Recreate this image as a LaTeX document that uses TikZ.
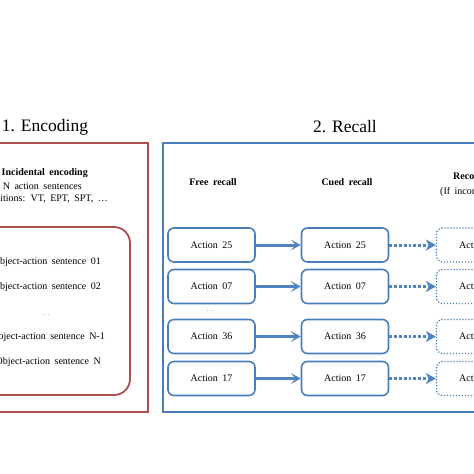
\documentclass[tikz,border=0pt]{standalone}
\usepackage{fontspec}
\setmainfont[WordSpace=1.8]{Liberation Serif}
\newfontfamily\ttlfont{Liberation Serif}
\usetikzlibrary{arrows.meta}
\definecolor{rblue}{HTML}{4A7EBB}
\definecolor{ablue}{HTML}{4F84C0}
\definecolor{rred}{RGB}{172,78,80}
\tikzset{
  act/.style={draw=rblue, line width=1.6pt, rounded corners=6pt, minimum width=87pt, minimum height=34pt, fill=white, inner sep=0pt, font=\fontsize{10}{12}\selectfont},
  dact/.style={act, dash pattern=on 1.2pt off 1.8pt, line width=1.3pt},
  arr/.style={draw=ablue, line width=3pt, -{Stealth[length=10pt,width=11pt,inset=5pt]}},
  darr/.style={arr, dash pattern=on 2.8pt off 2pt, -{Stealth[length=10pt,width=11pt,inset=3pt]}},
  txt/.style={inner sep=0pt, font=\fontsize{10}{12}\selectfont},
  btxt/.style={txt, font=\fontsize{10}{12}\selectfont\bfseries},
  ttl/.style={inner sep=0pt, font=\ttlfont\fontsize{17.5}{20}\selectfont},
  dots/.style={inner sep=0pt, text=gray, font=\fontsize{7}{8}\selectfont}
}
\begin{document}
\begin{tikzpicture}[x=1pt,y=-1pt]
\useasboundingbox (0,0) rectangle (474,474);
\clip (0,0) rectangle (474,474);
\fill[white] (0,0) rectangle (474,474);
% Encoding panel
\node[ttl] (encttl) at (45,127) {1. Encoding};
\draw[rred, line width=2.2pt] (-10,143) rectangle (148,412);
\node[btxt, anchor=east] (incid) at (88,173) {Incidental encoding};
\node[txt, anchor=east] (nact) at (82,186) {N action sentences};
\node[txt, anchor=east] (cond) at (108,199) {Conditions: VT, EPT, SPT, \ldots};
\draw[rred, line width=1.8pt, rounded corners=16pt] (-20,227) rectangle (130,395);
\node[txt, anchor=east] (s1) at (101,262) {Object-action sentence 01};
\node[txt, anchor=east] (s2) at (101,287) {Object-action sentence 02};
\node[dots] (sd) at (46,315) {\ldots};
\node[txt, anchor=east] (s3) at (105,337) {Object-action sentence N-1};
\node[txt, anchor=east] (s4) at (101,362) {Object-action sentence N};
% Recall panel
\node[ttl] (recttl) at (345,127) {2. Recall};
\draw[rblue, line width=1.8pt] (163,143) rectangle (495,412);
\node[btxt] (free) at (213,182) {Free recall};
\node[btxt] (cued) at (347,182) {Cued recall};
\node[btxt, anchor=west] (recog) at (453,177) {Recognition};
\node[txt, anchor=west] (ifinc) at (440,192) {(If incorrect in cued recall)};
% rows
\node[act] (a1) at (211.5,245) {Action 25};
\node[act] (b1) at (345,245) {Action 25};
\node[dact] (c1) at (480,245) {Action 25};
\node[act] (a2) at (211.5,286.5) {Action 07};
\node[act] (b2) at (345,286.5) {Action 07};
\node[dact] (c2) at (480,286.5) {Action 07};
\node[dots] (ad) at (210,311) {\ldots};
\node[act] (a3) at (211.5,336.5) {Action 36};
\node[act] (b3) at (345,336.5) {Action 36};
\node[dact] (c3) at (480,336.5) {Action 36};
\node[act] (a4) at (211.5,378.5) {Action 17};
\node[act] (b4) at (345,378.5) {Action 17};
\node[dact] (c4) at (480,378.5) {Action 17};
\foreach \i in {1,2,3,4} {
  \draw[arr] (a\i) -- (b\i);
  \draw[darr] (b\i) -- (c\i);
}
\end{tikzpicture}
\end{document}
